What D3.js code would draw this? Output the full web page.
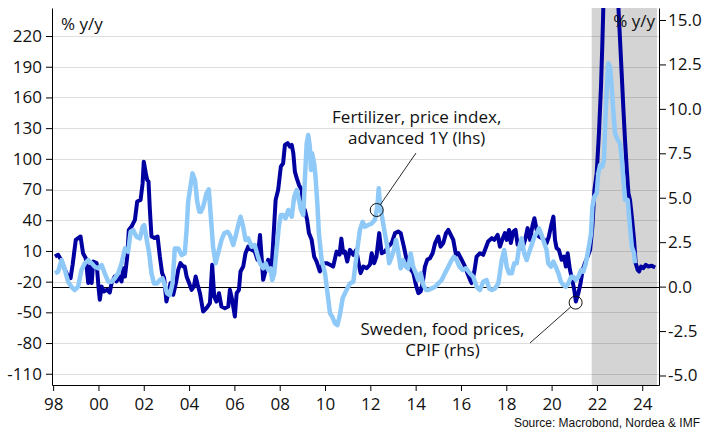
<!DOCTYPE html>
<html>
<head>
<meta charset="utf-8">
<script src="https://d3js.org/d3.v7.min.js"></script>
<style>
  body { margin: 0; background: #fff; }
  svg { display: block; }
</style>
</head>
<body>
<div id="chart"></div>
<script>
// Sweden food prices (CPIF, % y/y) - rhs
const foodYears = [1998.08,1998.22,1998.37,1998.52,1998.66,1998.77,1998.86,1999.0,1999.21,1999.32,1999.44,1999.55,1999.62,1999.7,1999.77,1999.92,
  2000.0,2000.06,2000.14,2000.24,2000.38,2000.5,2000.58,2000.72,2000.8,2000.91,2001.02,2001.09,2001.17,2001.27,2001.34,2001.46,2001.61,2001.71,2001.86,2001.95,
  2002.0,2002.09,2002.15,2002.21,2002.27,2002.34,2002.49,2002.61,2002.71,2002.81,2002.9,2003.0,2003.08,2003.18,2003.3,2003.42,2003.52,2003.62,2003.74,2003.81,2003.89,
  2004.0,2004.11,2004.21,2004.29,2004.38,2004.48,2004.62,2004.77,2004.92,2005.02,2005.11,2005.21,2005.32,2005.43,2005.58,2005.73,2005.8,2005.9,
  2006.02,2006.1,2006.2,2006.27,2006.39,2006.49,2006.61,2006.76,2006.9,2007.02,2007.13,2007.2,2007.27,2007.38,2007.49,2007.64,2007.71,2007.82,2007.93,
  2008.05,2008.15,2008.23,2008.35,2008.45,2008.53,2008.6,2008.67,2008.75,2008.85,2008.97,2009.04,2009.11,2009.21,2009.29,2009.41,2009.52,2009.63,2009.77,2009.92,
  2010.07,2010.22,2010.36,2010.51,2010.64,2010.72,2010.8,2010.88,2010.98,2011.1,2011.25,2011.38,2011.47,2011.57,2011.69,2011.84,2011.98,
  2012.06,2012.17,2012.27,2012.39,2012.5,2012.64,2012.79,2012.94,2013.09,2013.23,2013.34,2013.48,2013.6,2013.75,2013.9,
  2014.01,2014.12,2014.22,2014.31,2014.41,2014.51,2014.63,2014.75,2014.86,2015.0,2015.1,2015.22,2015.34,2015.44,2015.55,2015.66,2015.78,2015.88,
  2016.03,2016.18,2016.28,2016.4,2016.47,2016.59,2016.69,2016.84,2016.98,2017.1,2017.2,2017.36,2017.47,2017.62,2017.72,2017.82,2017.94,
  2018.02,2018.12,2018.2,2018.31,2018.41,2018.5,2018.6,2018.71,2018.83,2018.94,2019.05,2019.15,2019.24,2019.34,2019.44,2019.56,2019.68,2019.78,2019.88,2019.97,
  2020.08,2020.15,2020.22,2020.32,2020.44,2020.55,2020.63,2020.71,2020.81,2020.91,2021.0,2021.07,2021.18,2021.28,2021.37,2021.47,2021.59,2021.7,2021.8,2021.89,2021.99,
  2022.09,2022.18,2022.24,2022.3,2022.45,2022.6,2022.75,2022.9,2023.02,2023.1,2023.17,2023.24,2023.31,2023.39,2023.46,2023.54,2023.64,2023.71,2023.8,2023.86,2023.95,
  2024.05,2024.16,2024.27,2024.42,2024.57];
const foodValues = [1.69,1.79,1.47,0.94,0.57,0.48,1.23,2.63,2.82,1.88,1.6,0.2,1.13,0.2,1.41,1.32,
  0.0,-0.74,0.0,-0.27,-0.18,-0.33,0.2,0.57,0.29,0.57,0.29,1.04,0.57,1.69,3.19,3.38,3.76,4.79,4.88,5.82,
  7.03,6.38,6.0,5.91,4.32,2.82,2.73,2.82,1.69,0.76,0.48,-0.84,-0.37,0.2,-0.46,0.2,0.94,1.32,1.13,1.13,0.57,
  0.2,-0.18,0.0,0.57,0.1,-0.37,-1.4,-1.21,-0.93,1.23,-0.56,-0.84,-0.37,-1.12,-1.21,-1.12,-0.18,-0.74,
  -1.68,-0.37,-0.18,0.85,1.13,1.88,2.25,2.07,1.97,1.51,2.91,1.69,0.38,0.94,1.51,1.04,2.45,4.88,5.44,
  6.75,6.94,7.97,8.07,7.88,7.97,7.51,6.47,6.1,5.72,5.44,4.32,4.32,3.76,3.01,2.63,1.69,1.41,0.85,1.32,
  1.32,1.23,1.13,1.97,1.8,2.7,1.9,1.97,1.41,2.07,1.79,2.07,1.41,0.76,1.13,1.04,1.23,
  1.88,1.32,1.69,3.01,1.88,1.97,2.25,2.45,3.01,3.1,3.01,2.25,1.51,1.04,0.76,
  0.1,-0.37,-0.27,0.2,1.13,1.51,1.6,1.88,2.45,2.82,2.25,2.45,3.01,3.19,2.91,2.63,1.79,1.88,
  1.51,1.13,0.76,0.38,0.2,0.85,1.69,1.88,1.79,2.2,2.54,2.73,2.63,2.91,2.25,2.63,3.01,
  2.63,3.19,2.45,3.1,3.19,2.35,2.45,2.16,2.63,3.29,2.63,3.38,3.85,3.19,2.82,2.73,2.63,2.45,2.82,3.38,
  3.94,2.63,2.16,2.07,1.51,1.69,1.13,1.88,0.94,0.38,-0.18,-0.84,-0.37,0.2,0.94,1.32,1.69,2.07,3.38,5.44,6.38,
  8.63,11.25,13.69,16.5,20,22,20,17,13.88,11.81,9.94,8.25,6.75,5.26,4.88,3.94,2.63,1.32,0.94,0.85,1.13,
  1.04,1.23,1.13,1.17,1.07];

// Fertilizer price index, advanced 1Y (% y/y) - lhs
const fertYears = [1998.08,1998.22,1998.37,1998.52,1998.66,1998.81,1998.96,1999.1,1999.25,1999.4,1999.55,1999.7,1999.84,1999.99,
  2000.14,2000.28,2000.43,2000.58,2000.72,2000.87,2001.02,2001.17,2001.31,2001.42,2001.53,2001.68,2001.83,2001.95,
  2002.02,2002.12,2002.24,2002.34,2002.45,2002.59,2002.71,2002.83,2002.93,2003.03,2003.15,2003.27,2003.37,2003.52,2003.67,2003.81,2003.89,2003.96,
  2004.07,2004.15,2004.26,2004.36,2004.45,2004.52,2004.62,2004.77,2004.87,2004.96,2005.06,2005.17,2005.28,2005.43,2005.55,2005.7,2005.8,2005.95,
  2006.05,2006.17,2006.27,2006.39,2006.49,2006.61,2006.76,2006.9,2007.02,2007.13,2007.27,2007.38,2007.49,2007.6,2007.67,2007.76,2007.86,2007.96,
  2008.05,2008.15,2008.26,2008.38,2008.53,2008.64,2008.75,2008.85,2008.94,2009.04,2009.11,2009.19,2009.26,2009.33,2009.38,2009.43,2009.52,2009.58,2009.66,2009.73,2009.85,
  2010.0,2010.11,2010.22,2010.32,2010.44,2010.55,2010.66,2010.78,2010.95,2011.1,2011.25,2011.4,2011.54,2011.66,2011.76,2011.91,
  2012.06,2012.2,2012.31,2012.37,2012.42,2012.54,2012.64,2012.75,2012.83,2012.94,2013.04,2013.13,2013.23,2013.34,2013.45,2013.57,2013.67,2013.78,2013.89,
  2014.01,2014.11,2014.22,2014.34,2014.46,2014.56,2014.71,2014.86,2015.0,2015.15,2015.29,2015.44,2015.59,2015.69,2015.81,2015.93,
  2016.08,2016.22,2016.4,2016.54,2016.69,2016.84,2016.98,2017.13,2017.25,2017.36,2017.5,2017.65,2017.8,2017.91,
  2018.02,2018.12,2018.24,2018.35,2018.46,2018.56,2018.68,2018.79,2018.9,2018.99,2019.12,2019.24,2019.34,2019.44,2019.53,2019.63,2019.78,2019.85,2019.97,
  2020.08,2020.18,2020.3,2020.41,2020.52,2020.62,2020.74,2020.86,2020.96,2021.06,2021.18,2021.3,2021.4,2021.51,2021.62,2021.74,2021.8,2021.89,2021.99,
  2022.06,2022.14,2022.24,2022.31,2022.39,2022.45,2022.5,2022.58,2022.65,2022.72,2022.8,2022.92,2023.02,2023.1,2023.17,2023.24,2023.36,2023.46,2023.54,2023.64,2023.68];
const fertValues = [-11.9,-10.3,1.1,-8.7,-20.1,-25.0,-28.2,-25.0,-8.7,-2.1,1.1,-2.1,-5.4,-7.0,
  -3.8,-11.9,-20.1,-20.1,-16.8,-11.9,-2.1,12.5,9.2,28.8,30.4,23.9,22.3,33.6,
  35.3,22.3,7.6,-11.9,-21.7,-21.7,-18.4,-16.8,-23.3,-31.4,-33.1,-21.7,12.5,12.5,6.0,7.6,30.4,58.1,
  74.4,85.8,79,58.1,48.3,48.3,53.2,66.3,70.2,43.4,14.1,-2.1,7.6,20.7,27.2,28.8,25.5,15.8,
  23.9,35.3,43.4,33.6,20.7,22.3,14.1,15.8,6.0,-2.1,-7.0,-2.1,-8.7,-7.0,-18.4,-11.9,10.9,33.6,
  45.1,45.1,41.9,50.0,43.4,63.0,69.5,59.7,50.0,45.1,79.3,115.1,123.3,111.8,89.1,105.4,95.6,82.5,56.5,27.2,1.1,
  -11.9,-31.4,-51.0,-54.3,-60.7,-62.4,-52,-36,-28.2,-21.7,-20.1,7.6,30.4,38.5,33.6,35.3,
  36.9,40.2,53.2,71.2,56.5,40.2,27.2,14.1,-2.1,4.3,10.9,20.7,9.2,-7.0,1.1,-5.4,-7.0,7.6,-5.4,
  -11.9,-18.4,-11.9,-23.3,-28.2,-28.2,-26.6,-25.0,-21.7,-18.4,-11.9,-5.4,1.1,4.3,1.1,-5.4,
  -8.7,-7.0,-11.9,-15.2,-25.0,-28.2,-20.1,-18.4,-27,-28.2,-26.6,-21.7,1.1,10.9,
  -5.4,-11.9,-11.9,-2.1,-2.1,12.5,22.3,7.6,1.1,7.6,15.8,23.9,27.2,32.1,27.2,20.7,10.9,-2.1,-5.4,
  -0.4,-5.4,-11.9,-20.1,-23.3,-25.0,-21.7,-15.2,-15.2,-18.4,-15.2,-8.7,-10.3,-2.1,10.9,27.2,53.2,63.0,66.3,
  85.8,93.9,92.3,98.8,147.7,173.8,193.3,190.0,170.5,147.7,124.9,118.4,115.1,98.8,79.3,59.7,59.7,33.6,14.1,7.6,-2.1];

const leftTicks = [220, 190, 160, 130, 100, 70, 40, 10, -20, -50, -80, -110];
const rightTicks = [15, 12.5, 10, 7.5, 5, 2.5, 0, -2.5, -5];
const yearTicks = [1998, 2000, 2002, 2004, 2006, 2008, 2010, 2012, 2014, 2016, 2018, 2020, 2022, 2024];
const shadeYears = [2021.77, 2024.65];

const width = 710, height = 448;
const plotLeft = 52, plotRight = 659, plotTop = 8, plotBottom = 385;
const font = "'Open Sans', 'Liberation Sans', sans-serif";

const svg = d3.select("#chart").append("svg")
  .attr("width", width)
  .attr("height", height)
  .style("font-family", font);

const x = d3.scaleLinear().domain([1997.95, 2024.74]).range([plotLeft, plotRight]);
const yL = d3.scaleLinear().domain([-121.0, 247.4]).range([plotBottom, plotTop]);
const yR = d3.scaleLinear().domain([-5.535, 15.675]).range([plotBottom, plotTop]);

// shaded period
svg.append("rect")
  .attr("x", x(shadeYears[0]))
  .attr("y", plotTop)
  .attr("width", x(shadeYears[1]) - x(shadeYears[0]))
  .attr("height", plotBottom - plotTop)
  .attr("fill", "#d4d4d4");

// gridlines
svg.append("g").selectAll("line")
  .data(leftTicks)
  .join("line")
  .attr("x1", plotLeft).attr("x2", plotRight)
  .attr("y1", d => Math.round(yL(d)) + 0.5)
  .attr("y2", d => Math.round(yL(d)) + 0.5)
  .attr("stroke", "rgba(0,0,0,0.13)")
  .attr("stroke-width", 1.2);

// zero line (rhs)
svg.append("line")
  .attr("x1", plotLeft).attr("x2", plotRight)
  .attr("y1", Math.round(yR(0)) + 0.5)
  .attr("y2", Math.round(yR(0)) + 0.5)
  .attr("stroke", "#000")
  .attr("stroke-width", 1);

svg.append("clipPath").attr("id", "plot-clip")
  .append("rect")
  .attr("x", plotLeft).attr("y", plotTop)
  .attr("width", plotRight - plotLeft).attr("height", plotBottom - plotTop);

const food = foodYears.map((t, i) => [t, foodValues[i]]);
const fert = fertYears.map((t, i) => [t, fertValues[i]]);

const plot = svg.append("g").attr("clip-path", "url(#plot-clip)");

plot.append("path")
  .datum(food)
  .attr("fill", "none")
  .attr("stroke", "#0000a0")
  .attr("stroke-width", 4)
  .attr("stroke-linejoin", "round")
  .attr("d", d3.line().x(d => x(d[0])).y(d => yR(d[1])));

plot.append("path")
  .datum(fert)
  .attr("fill", "none")
  .attr("stroke", "#8fc9f8")
  .attr("stroke-width", 4.5)
  .attr("stroke-linejoin", "round")
  .attr("d", d3.line().x(d => x(d[0])).y(d => yL(d[1])));

// axes
const axisLeft = svg.append("g")
  .attr("transform", `translate(${plotLeft},0)`)
  .call(d3.axisLeft(yL).tickValues(leftTicks).tickFormat(d => String(d))
    .tickSize(6).tickSizeOuter(0).tickPadding(4));

const axisRight = svg.append("g")
  .attr("transform", `translate(${plotRight},0)`)
  .call(d3.axisRight(yR).tickValues(rightTicks).tickFormat(d => d.toFixed(1))
    .tickSize(7).tickSizeOuter(0).tickPadding(2));

const axisBottom = svg.append("g")
  .attr("transform", `translate(0,${plotBottom})`)
  .call(d3.axisBottom(x).tickValues(yearTicks).tickFormat(d => String(d).slice(2))
    .tickSize(6).tickSizeOuter(0).tickPadding(7));

[axisLeft, axisRight, axisBottom].forEach(g => {
  g.selectAll("text").attr("font-family", font).attr("font-size", 17).attr("fill", "#111");
  g.selectAll("line").attr("stroke", "#000");
  g.select(".domain").attr("stroke", "#000");
});

// unit labels
svg.append("text").attr("x", 61).attr("y", 30)
  .attr("font-size", 17).attr("fill", "#111").text("% y/y");
svg.append("text").attr("x", 655).attr("y", 27)
  .attr("text-anchor", "end")
  .attr("font-size", 17).attr("fill", "#111").text("% y/y");

// annotations
const notes = [
  { lines: ["Fertilizer, price index,", "advanced 1Y (lhs)"], tx: 416.7, ty: 123, pt: [2012.28, 50, "L"], end: [416, 153] },
  { lines: ["Sweden, food prices,", "CPIF (rhs)"], tx: 442.5, ty: 335, pt: [2021.06, -0.9, "R"], end: [530, 343] }
];

notes.forEach(n => {
  const cx = x(n.pt[0]);
  const cy = n.pt[2] === "L" ? yL(n.pt[1]) : yR(n.pt[1]);
  const r = 6.5;
  const ang = Math.atan2(n.end[1] - cy, n.end[0] - cx);
  svg.append("line")
    .attr("x1", cx + r * Math.cos(ang)).attr("y1", cy + r * Math.sin(ang))
    .attr("x2", n.end[0]).attr("y2", n.end[1])
    .attr("stroke", "#111").attr("stroke-width", 0.9);
  svg.append("circle")
    .attr("cx", cx).attr("cy", cy).attr("r", r)
    .attr("fill", "none").attr("stroke", "#111").attr("stroke-width", 1);
  n.lines.forEach((s, i) => {
    svg.append("text")
      .attr("x", n.tx).attr("y", n.ty + i * 21)
      .attr("text-anchor", "middle")
      .attr("font-size", 17).attr("fill", "#111")
      .text(s);
  });
});

// source
svg.append("text")
  .attr("x", 700).attr("y", 427)
  .attr("text-anchor", "end")
  .attr("font-family", "'Liberation Sans', Arial, sans-serif")
  .attr("font-size", 12).attr("fill", "#111")
  .text("Source: Macrobond, Nordea & IMF");
</script>
</body>
</html>
